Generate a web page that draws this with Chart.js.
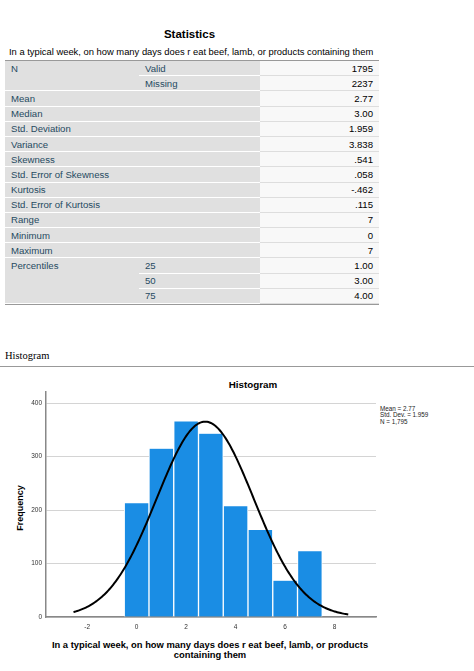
<!DOCTYPE html>
<html><head><meta charset="utf-8">
<script src="https://cdn.jsdelivr.net/npm/chart.js@4"></script>
<style>
body{margin:0;width:474px;height:671px;background:#fff;font-family:"Liberation Sans",Arial,sans-serif;position:relative;overflow:hidden}
.abs{position:absolute}
table{border-collapse:collapse;font-size:9.6px;color:#264a60}
td{height:14.2px;padding:0 6px;border-bottom:1px solid #fff;}
td.a{background:#e0e0e0;width:121px}
td.b{background:#e0e0e0;width:109px;border-left:1px solid #e0e0e0}
td.c{background:#f8f8f8;width:107px;text-align:right;color:#000;border-bottom:1px solid #ddd}
</style></head><body>
<div class="abs" style="left:0;width:379px;top:28px;text-align:center;font-weight:bold;font-size:11.5px">Statistics</div>
<div class="abs" style="left:9px;top:46px;font-size:9.4px;color:#000">In a typical week, on how many days does r eat beef, lamb, or products containing them</div>
<div class="abs" style="left:5px;top:60px;border-top:1px solid #999;border-bottom:1.5px solid #999"><table id="t"></table></div>
<div class="abs" style="left:5px;top:350px;font-family:'Liberation Serif',serif;font-size:10.5px">Histogram</div>
<div class="abs" style="left:0;top:366px;width:474px;height:1px;background:#999"></div>
<div class="abs" style="left:0;width:474px;top:379px;text-align:center;font-weight:bold;font-size:9.8px;padding-left:32px;box-sizing:border-box">Histogram</div>
<div class="abs" style="left:380px;top:406px;font-size:6.3px;line-height:6.4px;color:#222">Mean = 2.77<br>Std. Dev. = 1.959<br>N = 1,795</div>
<div class="abs" style="left:-10px;top:503px;width:60px;text-align:center;transform:rotate(-90deg);font-weight:bold;font-size:9px">Frequency</div>
<div class="abs" style="left:40px;width:340px;top:640px;text-align:center;font-weight:bold;font-size:9.4px;line-height:9.5px">In a typical week, on how many days does r eat beef, lamb, or products<br>containing them</div>
<div class="abs" style="left:0;top:370px;width:474px;height:301px"><canvas id="c"></canvas></div>
<script>
const statLabels=["N","","Mean","Median","Std. Deviation","Variance","Skewness","Std. Error of Skewness","Kurtosis","Std. Error of Kurtosis","Range","Minimum","Maximum","Percentiles","",""];
const statSub=["Valid","Missing","","","","","","","","","","","","25","50","75"];
const statValues=["1795","2237","2.77","3.00","1.959","3.838",".541",".058","-.462",".115","7","0","7","1.00","3.00","4.00"];
const days=[0,1,2,3,4,5,6,7];
const freq=[213,315,366,343,207,163,68,123];
const mean=2.77, sd=1.959, n=1795;

const t=document.getElementById('t');
statLabels.forEach((l,i)=>{
  const tr=document.createElement('tr');
  const noLine=(i===0||i===13||i===14);
  tr.innerHTML=`<td class="a" style="${noLine?'border-bottom-color:#e0e0e0':''}">${l}</td><td class="b" style="border-bottom-color:${statSub[i]?'#fff':'#fff'}">${statSub[i]}</td><td class="c">${statValues[i]}</td>`;
  t.appendChild(tr);
});

const curve=[];
for(let x=-2.55;x<=8.56;x+=0.05){
  curve.push({x:x,y:n*Math.exp(-0.5*((x-mean)/sd)**2)/(sd*Math.sqrt(2*Math.PI))});
}
new Chart(document.getElementById('c'),{
  data:{datasets:[
    {type:'line',data:curve,borderColor:'#000',borderWidth:2,pointRadius:0,tension:0,order:0},
    {type:'bar',data:days.map((d,i)=>({x:d,y:freq[i]})),backgroundColor:'#1a8de4',borderColor:'#fff',borderWidth:{left:1,right:1},borderSkipped:'bottom',barPercentage:1,categoryPercentage:1,order:1}
  ]},
  options:{responsive:true,maintainAspectRatio:false,animation:false,
    layout:{padding:{top:22,right:98,left:0,bottom:0}},
    plugins:{legend:{display:false},tooltip:{enabled:false}},
    scales:{
      x:{type:'linear',min:-2.55,max:8.56,afterBuildTicks:s=>{s.ticks=[-2,0,2,4,6,8].map(v=>({value:v}))},
        grid:{display:false,drawTicks:false},border:{color:'#888',width:1.5},
        ticks:{font:{size:6.5,family:'Liberation Sans'},color:'#333',padding:6},
        afterFit:s=>{s.height=54}},
      y:{min:0,max:421,afterBuildTicks:s=>{s.ticks=[0,100,200,300,400].map(v=>({value:v}))},
        grid:{color:'#d4d4d4',lineWidth:1,drawTicks:false},border:{color:'#888',width:1.5},
        ticks:{font:{size:6.5,family:'Liberation Sans'},color:'#333',padding:4},
        afterFit:s=>{s.width=46}}
    }}
});
</script></body></html>
